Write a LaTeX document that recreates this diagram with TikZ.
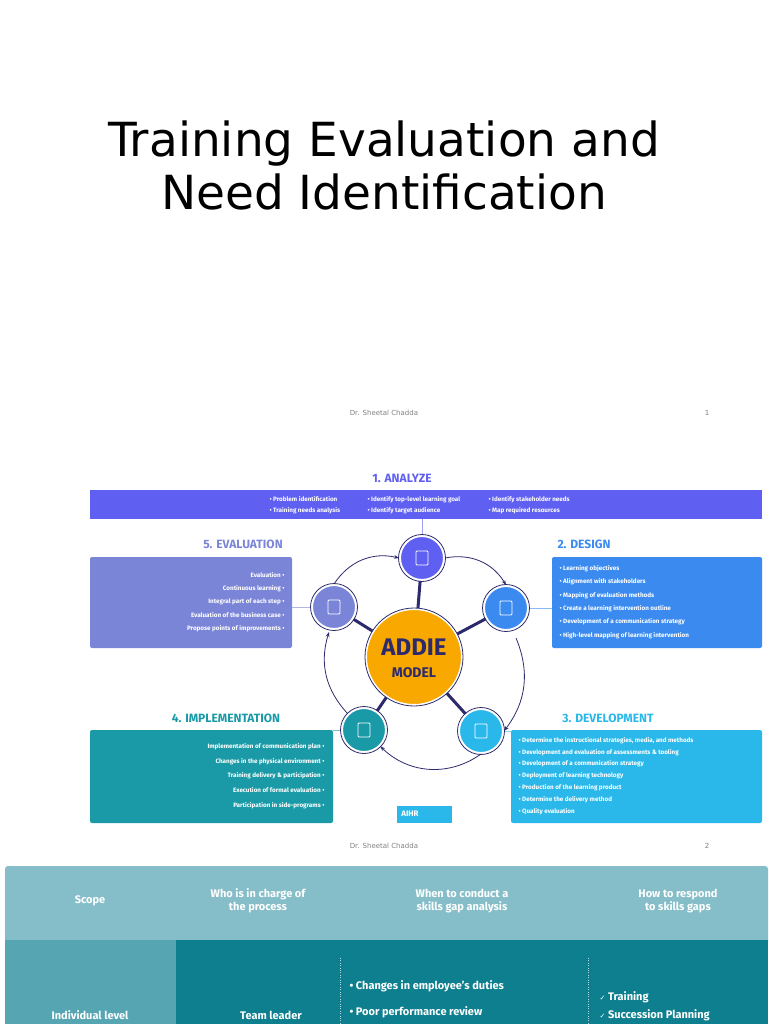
\documentclass[tikz,border=0pt]{standalone}
\usepackage{fontspec}
\setmainfont{DejaVu Sans}
\newfontfamily\cond{Fira Sans}
\newfontfamily\dvs{DejaVu Sans}
\usetikzlibrary{arrows.meta,calc}
\definecolor{anal}{HTML}{5F5FF2}
\definecolor{evl}{HTML}{7B85D8}
\definecolor{dsg}{HTML}{3A8AF0}
\definecolor{imp}{HTML}{1A9AA6}
\definecolor{dev}{HTML}{2AB8EA}
\definecolor{org}{HTML}{F9A800}
\definecolor{navy}{HTML}{2C2A6B}
\definecolor{thead}{HTML}{85BEC8}
\definecolor{tcol}{HTML}{55A5B2}
\definecolor{tbody}{HTML}{0E7F8E}
\tikzset{
 x=1pt,y=-1pt,
 ttl/.style={font=\cond\bfseries\fontsize{12}{13}\selectfont},
 itm/.style={font=\cond\bfseries\fontsize{6.3}{11.5}\selectfont,text=white,align=left},
 itmr/.style={font=\cond\bfseries\fontsize{6.3}{11.5}\selectfont,text=white,align=right},
 sm/.style={circle,minimum size=44pt,draw=white,line width=2pt,inner sep=0},
 arc/.style={navy,line width=0.8pt,-{Stealth[length=5pt]}},
 foot/.style={font=\fontsize{7}{8}\selectfont,text=gray},
 th/.style={font=\cond\bfseries\fontsize{11}{13}\selectfont,text=white,align=center},
 tb/.style={font=\cond\bfseries\fontsize{11}{13}\selectfont,text=white,anchor=west}
}
\begin{document}
\begin{tikzpicture}
\useasboundingbox (0,0) rectangle (768,1024);
\clip (0,0) rectangle (768,1024);
\node[font=\fontsize{47}{53}\selectfont,align=center] (title) at (384,165) {Training Evaluation and\\Need Identification};
\node[foot] (f1) at (384,413) {Dr. Sheetal Chadda};
\node[foot] (p1) at (707,413) {1};
% analyze
\node[ttl,text=anal] (ta) at (402,478) {1. ANALYZE};
\fill[anal] (90,490) rectangle (762,519);
\node[itm,anchor=west] (a1) at (266,505) {• Problem identification\\• Training needs analysis};
\node[itm,anchor=west] (a2) at (364,505) {• Identify top-level learning goal\\• Identify target audience};
\node[itm,anchor=west] (a3) at (485,505) {• Identify stakeholder needs\\• Map required resources};
% eval
\node[ttl,text=evl] (te) at (243,544) {5. EVALUATION};
\fill[evl,rounded corners=2pt] (90,557) rectangle (292,648);
\node[itmr,anchor=east,font=\cond\bfseries\fontsize{6.3}{13.3}\selectfont] (e1) at (288,602) {Evaluation •\\Continuous learning •\\Integral part of each step •\\Evaluation of the business case •\\Propose points of improvements •};
% design
\node[ttl,text=dsg] (td) at (584,544) {2. DESIGN};
\fill[dsg,rounded corners=2pt] (552,557) rectangle (762,648);
\node[itm,anchor=west,font=\cond\bfseries\fontsize{6.3}{13.3}\selectfont] (d1) at (556,602) {• Learning objectives\\• Alignment with stakeholders\\• Mapping of evaluation methods\\• Create a learning intervention outline\\• Development of a communication strategy\\• High-level mapping of learning intervention};
% impl
\node[ttl,text=imp] (ti) at (226,718) {4. IMPLEMENTATION};
\fill[imp,rounded corners=2pt] (90,730) rectangle (333,823);
\node[itmr,anchor=east,font=\cond\bfseries\fontsize{6.3}{14.6}\selectfont] (i1) at (328,776) {Implementation of communication plan •\\Changes in the physical environment •\\Training delivery \& participation •\\Execution of formal evaluation •\\Participation in side-programs •};
% dev
\node[ttl,text=dev] (tv) at (608,718) {3. DEVELOPMENT};
\fill[dev,rounded corners=2pt] (511,730) rectangle (762,823);
\node[itm,anchor=west,font=\cond\bfseries\fontsize{6.3}{11.9}\selectfont] (v1) at (515,776) {• Determine the instructional strategies, media, and methods\\• Development and evaluation of assessments \& tooling\\• Development of a communication strategy\\• Deployment of learning technology\\• Production of the learning product\\• Determine the delivery method\\• Quality evaluation};
% connector lines
\draw[anal!60,line width=0.8pt] (422,519) -- (422,535);
\draw[evl!60,line width=0.8pt] (292,607) -- (311,607);
\draw[dsg!60,line width=0.8pt] (529,608) -- (552,608);
\draw[imp!60,line width=0.8pt] (333,730) -- (341,730);
\draw[dev!60,line width=0.8pt] (504,731) -- (511,731);
% circles
\coordinate (c) at (414,657);
\coordinate (s1) at (422,558);
\coordinate (s2) at (506,608);
\coordinate (s3) at (481,731);
\coordinate (s4) at (364,730);
\coordinate (s5) at (334,607);
\foreach \s in {s1,s2,s3,s4,s5}{\draw[navy,line width=3pt] (\s) -- (c);}
\node[circle,fill=org,draw=white,line width=2pt,minimum size=96pt,inner sep=0] (cc) at (c) {};
\draw[navy,line width=0.8pt] (c) circle (49);
\node[font=\cond\bfseries\fontsize{24}{25}\selectfont,text=navy] (ad) at (414,647) {ADDIE};
\node[font=\cond\bfseries\fontsize{14}{15}\selectfont,text=navy] (mo) at (414,673) {MODEL};
\node[sm,fill=anal] (n1) at (s1) {};
\node[sm,fill=dsg] (n2) at (s2) {};
\node[sm,fill=dev] (n3) at (s3) {};
\node[sm,fill=imp] (n4) at (s4) {};
\node[sm,fill=evl] (n5) at (s5) {};
\foreach \s in {n1,n2,n3,n4,n5}{\draw[navy,line width=0.8pt] (\s.center) circle (23.5);
 \draw[white,line width=0.8pt,rounded corners=1pt] ($(\s.center)+(-6,-7)$) rectangle ($(\s.center)+(6,7)$);}
% arcs
\draw[arc] (n5.north) to[bend left=35] (n1.west);
\draw[arc] (n1.east) to[bend left=35] (n2.north);
\draw[arc] ($(n2.center)+(10,30)$) to[bend left=30] (n3.east);
\draw[arc] (n3.south) to[bend left=40] (n4.south east);
\draw[arc] (n4.north west) to[bend left=30] ($(n5.center)+(-5,25)$);
% logo
\fill[dev] (397,806) rectangle (452,823);
\node[font=\cond\bfseries\fontsize{8}{9}\selectfont,text=white] (logo) at (410,814) {AIHR};
\node[foot] (f2) at (384,846) {Dr. Sheetal Chadda};
\node[foot] (p2) at (707,846) {2};
% table
\fill[thead,rounded corners=3pt] (5,866) rectangle (768,945);
\fill[thead] (5,920) rectangle (768,940);
\fill[tcol] (5,940) rectangle (176,1024);
\fill[tbody] (176,940) rectangle (768,1024);
\draw[white!70!tbody,dotted] (340,958) -- (340,1024);
\draw[white!70!tbody,dotted] (588,958) -- (588,1024);
\node[th] (h1) at (90,901) {Scope};
\node[th] (h2) at (258,901) {Who is in charge of\\the process};
\node[th] (h3) at (462,901) {When to conduct a\\skills gap analysis};
\node[th] (h4) at (678,901) {How to respond\\to skills gaps};
\node[tb,anchor=center] (b1) at (90,1015) {Individual level};
\node[tb,anchor=center] (b2) at (271,1015) {Team leader};
\node[tb] (b3) at (346,986) {• Changes in employee’s duties};
\node[tb] (b4) at (346,1012) {• Poor performance review};
\node[tb] (b5) at (596,997) {{\dvs\fontsize{7}{8}\selectfont ✓} Training};
\node[tb] (b6) at (596,1015) {{\dvs\fontsize{7}{8}\selectfont ✓} Succession Planning};
\end{tikzpicture}
\end{document}
